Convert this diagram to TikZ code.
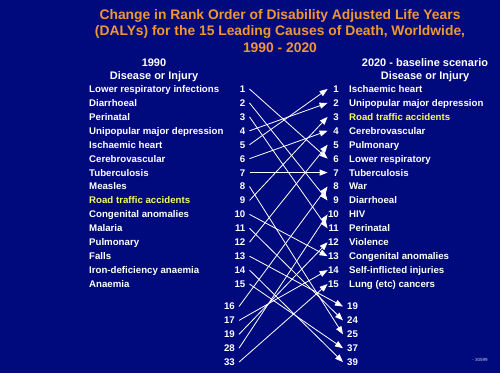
\documentclass[tikz,border=0pt]{standalone}
\usepackage{fontspec}
\setmainfont{Liberation Sans}
\usetikzlibrary{arrows.meta}
\definecolor{bg}{RGB}{0,10,125}
\definecolor{ttl}{RGB}{240,150,50}
\definecolor{hl}{RGB}{250,250,90}
\begin{document}
\begin{tikzpicture}[x=1bp,y=-1bp,
  lbl/.style={font=\bfseries\fontsize{9.7}{11}\selectfont, text=white, inner sep=0pt, text height=6.9bp, text depth=0bp},
  lnum/.style={lbl, anchor=east, inner xsep=4bp},
  rnum/.style={lbl, anchor=east, text width=11bp, align=right},
  bnum/.style={lbl, anchor=west, inner xsep=4bp},
  dname/.style={lbl, anchor=west},
  ttlstyle/.style={font=\bfseries\fontsize{13.9}{16}\selectfont, text=ttl, inner sep=0pt, anchor=base},
  hdr/.style={font=\bfseries\fontsize{11}{13}\selectfont, text=white, inner sep=0pt, anchor=base},
  conn/.style={draw=white, line width=0.8bp, -{Triangle[length=8bp,width=6bp]}}]
\useasboundingbox[fill=bg] (0,0) rectangle (500,373);
% title
\node[ttlstyle] (t1) at (280,19) {Change in Rank Order of Disability Adjusted Life Years};
\node[ttlstyle] (t2) at (280,35.5) {(DALYs) for the 15 Leading Causes of Death, Worldwide,};
\node[ttlstyle] (t3) at (280,52) {1990 - 2020};
% headers
\node[hdr] (h1) at (154,66) {1990};
\node[hdr] (h2) at (154,79) {Disease or Injury};
\node[hdr] (h3) at (425,66) {2020 - baseline scenario};
\node[hdr] (h4) at (425,79) {Disease or Injury};
% left list
\foreach \t [count=\i] in {Lower respiratory infections,Diarrhoeal,Perinatal,Unipopular major depression,Ischaemic heart,Cerebrovascular,Tuberculosis,Measles,{\color{hl}Road traffic accidents},Congenital anomalies,Malaria,Pulmonary,Falls,Iron-deficiency anaemia,Anaemia}{
  \pgfmathsetmacro{\yy}{89+(\i-1)*13.93}
  \node[dname] (LN\i) at (89,\yy) {\t};
  \node[lnum] (L\i) at (249.5,\yy) {\i};
}
% right list
\foreach \t [count=\i] in {Ischaemic heart,Unipopular major depression,{\color{hl}Road traffic accidents},Cerebrovascular,Pulmonary,Lower respiratory,Tuberculosis,War,Diarrhoeal,HIV,Perinatal,Violence,Congenital anomalies,Self-inflicted injuries,Lung (etc) cancers}{
  \pgfmathsetmacro{\yy}{89+(\i-1)*13.93}
  \node[rnum] (R\i) at (339,\yy) {\i};
  \node[dname] (RN\i) at (349,\yy) {\t};
}
% bottom lists
\foreach \n [count=\i] in {16,17,19,28,33}{
  \pgfmathsetmacro{\yy}{306.5+(\i-1)*13.9}
  \node[lnum] (LB\n) at (239,\yy) {\n};
}
\foreach \n [count=\i] in {19,24,25,37,39}{
  \pgfmathsetmacro{\yy}{306.5+(\i-1)*13.9}
  \node[bnum] (RB\n) at (343,\yy) {\n};
}
% connectors
\draw[conn] (L1.east) -- (R6.west);
\draw[conn] (L2.east) -- (R9.west);
\draw[conn] (L3.east) -- (R11.west);
\draw[conn] (L4.east) -- (R2.west);
\draw[conn] (L5.east) -- (R1.west);
\draw[conn] (L6.east) -- (R4.west);
\draw[conn] (L7.east) -- (R7.west);
\draw[conn] (L8.east) -- (RB25.west);
\draw[conn] (L9.east) -- (R3.west);
\draw[conn] (L10.east) -- (R13.west);
\draw[conn] (L11.east) -- (RB24.west);
\draw[conn] (L12.east) -- (R5.west);
\draw[conn] (L13.east) -- (RB19.west);
\draw[conn] (L14.east) -- (RB39.west);
\draw[conn] (L15.east) -- (RB37.west);
\draw[conn] (LB16.east) -- (R8.west);
\draw[conn] (LB17.east) -- (R14.west);
\draw[conn] (LB19.east) -- (R12.west);
\draw[conn] (LB28.east) -- (R10.west);
\draw[conn] (LB33.east) -- (R15.west);
% footnote
\node[font=\fontsize{4.5}{5}\selectfont, text=white!80!bg, inner sep=0pt] (fn) at (480,360) {- 30599};
\end{tikzpicture}
\end{document}
